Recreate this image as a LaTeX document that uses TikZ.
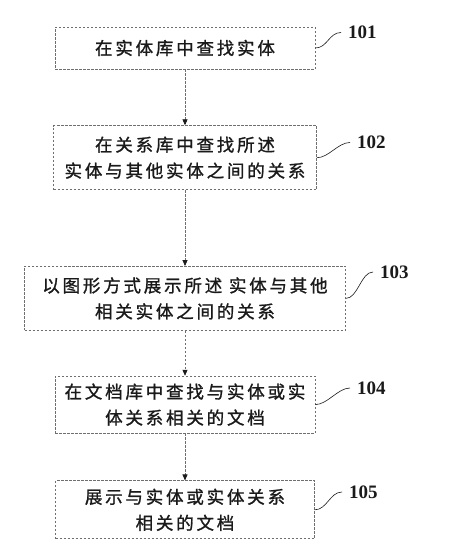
\documentclass[tikz,border=0pt]{standalone}
\usepackage{fontspec}
\setmainfont{Noto Sans CJK SC}
\newfontfamily\numfont{Liberation Serif}
\usetikzlibrary{arrows.meta,positioning}
\definecolor{ink}{HTML}{1A1A1A}
\definecolor{frame}{HTML}{6F6F6F}
\tikzset{
  stepbox/.style={rectangle,draw=frame,dash pattern=on 2.5pt off 1.5pt,line width=0.7pt,
    text=ink,align=center,inner sep=2pt,
    font=\fontsize{17.5}{26}\selectfont\addfontfeature{LetterSpace=16,FakeBold=1.2}},
  steparr/.style={-{Triangle[length=6pt,width=5pt,color=ink]},draw=frame,
    dash pattern=on 2.5pt off 1.5pt,line width=0.7pt},
  steplabel/.style={font=\numfont\bfseries\fontsize{19}{19}\selectfont,text=ink,
    inner xsep=7pt,inner ysep=1pt,anchor=west},
  leader/.style={draw=ink,line width=0.6pt},
}
\begin{document}
\begin{tikzpicture}[x=1pt,y=-1pt]
  \useasboundingbox (0,0) rectangle (474,555);
  \node[stepbox,minimum width=260pt,minimum height=42pt] (s101) at (185,48) {在实体库中查找实体};
  \node[stepbox,minimum width=263pt,minimum height=64pt,below=56pt of s101] (s102) {在关系库中查找所述\\实体与其他实体之间的关系};
  \node[stepbox,minimum width=321pt,minimum height=64pt,below=76pt of s102] (s103) {以图形方式展示所述 实体与其他\\相关实体之间的关系};
  \node[stepbox,minimum width=260pt,minimum height=57pt,below=45pt of s103] (s104) {在文档库中查找与实体或实\\体关系相关的文档};
  \node[stepbox,minimum width=259pt,minimum height=58pt,below=47pt of s104] (s105) {展示与实体或实体关系\\相关的文档};

  \node[steplabel] (l101) at (341,32.5) {101};
  \node[steplabel] (l102) at (350,142.5) {102};
  \node[steplabel] (l103) at (373,272) {103};
  \node[steplabel] (l104) at (350,388) {104};
  \node[steplabel] (l105) at (342,492) {105};

  \draw[steparr] (s101) -- (s102);
  \draw[steparr] (s102) -- (s103);
  \draw[steparr] (s103) -- (s104);
  \draw[steparr] (s104) -- (s105);

  \draw[leader] (s101.east) .. controls +(12,0) and +(-12,0) .. (l101.west);
  \draw[leader] (s102.east) .. controls +(12,0) and +(-12,0) .. (l102.west);
  \draw[leader] (s103.east) .. controls +(12,0) and +(-12,0) .. (l103.west);
  \draw[leader] (s104.east) .. controls +(12,0) and +(-12,0) .. (l104.west);
  \draw[leader] (s105.east) .. controls +(12,0) and +(-12,0) .. (l105.west);
\end{tikzpicture}
\end{document}
